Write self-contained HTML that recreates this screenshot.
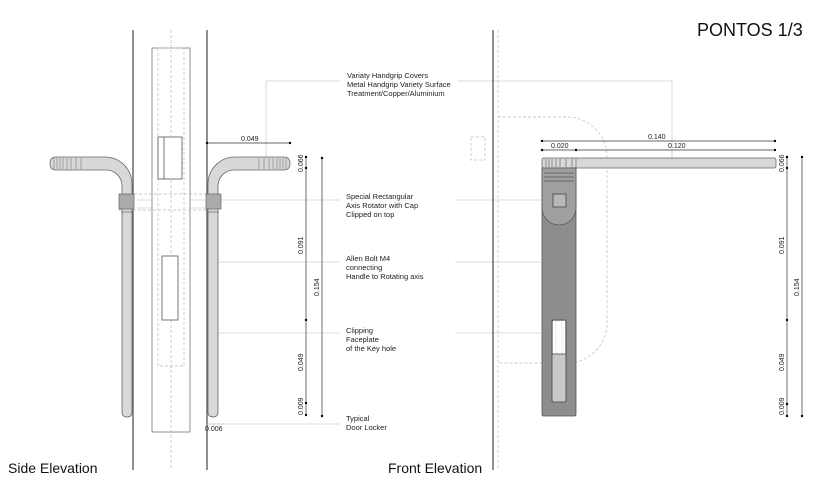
<!DOCTYPE html>
<html><head><meta charset="utf-8"><style>
html,body{margin:0;padding:0;background:#fff;}
svg{display:block;font-family:"Liberation Sans",sans-serif;}
.s{font-size:7px;fill:#222}
.l{font-size:7.5px;fill:#222}
</style></head><body>
<svg width="818" height="480" viewBox="0 0 818 480" xmlns="http://www.w3.org/2000/svg">
<rect width="818" height="480" fill="#fff"/>
<!-- leaders -->
<g stroke="#d0d0d0" stroke-width="0.8" fill="none">
<path d="M266,160 V81 H340"/>
<path d="M458,81 H672 V158"/>
<path d="M137,200 H340"/>
<path d="M137,208 H210"/>
<path d="M218,262 H340"/>
<path d="M218,333 H340"/>
<path d="M210,424 H340"/>
<path d="M455,200 H545"/>
<path d="M455,262 H545"/>
<path d="M455,333 H545"/>
</g>
<!-- door lines -->
<g stroke="#555" stroke-width="1.3">
<line x1="133" y1="30" x2="133" y2="470"/>
<line x1="207" y1="30" x2="207" y2="470"/>
<line x1="493" y1="30" x2="493" y2="470"/>
</g>
<!-- door strip -->
<rect x="152" y="48" width="38" height="384" fill="#fff" stroke="#777" stroke-width="0.8"/>
<g stroke="#bbb" stroke-width="0.7" stroke-dasharray="3,2" fill="none">
<line x1="171" y1="30" x2="171" y2="470"/>
<rect x="158" y="48" width="26" height="318"/>
<rect x="119" y="194" width="88" height="16"/>
<line x1="207" y1="424" x2="224" y2="424"/>
<path d="M498,30 V470"/>
<path d="M498,117 H567 A40,40 0 0 1 607,157 V323 A40,40 0 0 1 567,363 H498"/>
<rect x="471" y="137" width="14" height="23"/>
</g>
<rect x="158" y="137" width="24" height="42" fill="#fff" stroke="#555" stroke-width="0.8"/>
<line x1="164" y1="137" x2="164" y2="179" stroke="#555" stroke-width="0.8"/>
<rect x="162" y="256" width="16" height="64" fill="#fff" stroke="#555" stroke-width="0.8"/>
<!-- side handles -->
<g id="h">
<path d="M56,157 H105 A27,27 0 0 1 132,184 V412 Q132,417 127,417 Q122,417 122,412 V186 A16,16 0 0 0 106,170 H56 Q50,170 50,163.5 Q50,157 56,157 Z" fill="#d8d8d8" stroke="#666" stroke-width="0.8"/>
<g stroke="#888" stroke-width="0.7">
<line x1="54" y1="158" x2="54" y2="169"/><line x1="57" y1="158" x2="57" y2="169"/><line x1="60" y1="158" x2="60" y2="169"/><line x1="63" y1="158" x2="63" y2="169"/><line x1="67" y1="158" x2="67" y2="169"/><line x1="71" y1="158" x2="71" y2="169"/><line x1="76" y1="158" x2="76" y2="169"/><line x1="81" y1="158" x2="81" y2="169"/>
</g>
<rect x="119" y="194" width="15" height="15" fill="#aaa" stroke="#666" stroke-width="0.7"/>
<line x1="121" y1="212" x2="133" y2="212" stroke="#666" stroke-width="0.7"/>
</g>
<use href="#h" transform="translate(340,0) scale(-1,1)"/>
<!-- front handle -->
<rect x="542" y="158" width="234" height="10" rx="2" fill="#d8d8d8" stroke="#666" stroke-width="0.8"/>
<g stroke="#777" stroke-width="0.8"><line x1="546" y1="159" x2="546" y2="167"/><line x1="549" y1="159" x2="549" y2="167"/><line x1="552" y1="159" x2="552" y2="167"/><line x1="556" y1="159" x2="556" y2="167"/><line x1="560" y1="159" x2="560" y2="167"/><line x1="566" y1="159" x2="566" y2="167"/><line x1="572" y1="159" x2="572" y2="167"/><line x1="576" y1="159" x2="576" y2="168"/></g>
<rect x="542" y="168" width="34" height="248" rx="1.5" fill="#8d8d8d" stroke="#555" stroke-width="0.8"/>
<path d="M542,168 H576 V208 A17,17 0 0 1 542,208 Z" fill="#a0a0a0" stroke="#555" stroke-width="0.8"/>
<g stroke="#555" stroke-width="0.8"><line x1="544" y1="173" x2="574" y2="173"/><line x1="544" y1="177" x2="574" y2="177"/><line x1="544" y1="181" x2="574" y2="181"/></g>
<rect x="553" y="194" width="13" height="13" fill="#b8b8b8" stroke="#444" stroke-width="0.8"/>
<rect x="552" y="320" width="14" height="82" rx="1.5" fill="#c8c8c8" stroke="#444" stroke-width="0.8"/>
<rect x="553" y="321" width="12" height="33" fill="#fff"/>
<g stroke="#ccc" stroke-width="0.6" stroke-dasharray="2,1"><line x1="556" y1="321" x2="556" y2="354"/><line x1="562" y1="321" x2="562" y2="354"/></g>
<line x1="552" y1="354" x2="566" y2="354" stroke="#444" stroke-width="0.8"/>
<!-- dimensions -->
<g stroke="#333" stroke-width="0.7" fill="none">
<line x1="207" y1="143" x2="290" y2="143"/>
<line x1="306" y1="157" x2="306" y2="416"/>
<line x1="322" y1="158" x2="322" y2="416"/>
<line x1="542" y1="141" x2="775" y2="141"/>
<line x1="542" y1="150" x2="775" y2="150"/>
<line x1="787" y1="157" x2="787" y2="416"/>
<line x1="802" y1="157" x2="802" y2="416"/>
</g>
<g fill="#000">
<circle cx="207" cy="143" r="1.2"/><circle cx="290" cy="143" r="1.2"/>
<circle cx="306" cy="157" r="1.2"/><circle cx="306" cy="168" r="1.2"/><circle cx="306" cy="320" r="1.2"/><circle cx="306" cy="403" r="1.2"/><circle cx="306" cy="415" r="1.2"/>
<circle cx="322" cy="158" r="1.2"/><circle cx="322" cy="416" r="1.2"/>
<circle cx="542" cy="141" r="1.2"/><circle cx="775" cy="141" r="1.2"/>
<circle cx="542" cy="150" r="1.2"/><circle cx="576" cy="150" r="1.2"/><circle cx="775" cy="150" r="1.2"/>
<circle cx="787" cy="157" r="1.2"/><circle cx="787" cy="168" r="1.2"/><circle cx="787" cy="320" r="1.2"/><circle cx="787" cy="404" r="1.2"/><circle cx="787" cy="416" r="1.2"/>
<circle cx="802" cy="157" r="1.2"/><circle cx="802" cy="416" r="1.2"/>
</g>
<text class="s" x="241" y="141">0.049</text>
<text class="s" x="205" y="431">0.006</text>
<text class="s" x="648" y="139">0.140</text>
<text class="s" x="551" y="148">0.020</text>
<text class="s" x="668" y="148">0.120</text>
<g class="s">
<text transform="translate(303,172) rotate(-90)">0.066</text>
<text transform="translate(303,254) rotate(-90)">0.091</text>
<text transform="translate(303,371) rotate(-90)">0.049</text>
<text transform="translate(303,415) rotate(-90)">0.009</text>
<text transform="translate(319,296) rotate(-90)">0.154</text>
<text transform="translate(784,172) rotate(-90)">0.066</text>
<text transform="translate(784,254) rotate(-90)">0.091</text>
<text transform="translate(784,371) rotate(-90)">0.049</text>
<text transform="translate(784,415) rotate(-90)">0.009</text>
<text transform="translate(799,296) rotate(-90)">0.154</text>
</g>
<!-- labels -->
<g class="l">
<text x="347" y="78">Variaty Handgrip Covers</text>
<text x="347" y="87">Metal Handgrip Variety Surface</text>
<text x="347" y="96">Treatment/Copper/Aluminium</text>
<text x="346" y="199">Special Rectangular</text>
<text x="346" y="208">Axis Rotator with Cap</text>
<text x="346" y="217">Clipped on top</text>
<text x="346" y="261">Allen Bolt M4</text>
<text x="346" y="270">connecting</text>
<text x="346" y="279">Handle to Rotating axis</text>
<text x="346" y="333">Clipping</text>
<text x="346" y="342">Faceplate</text>
<text x="346" y="351">of the Key hole</text>
<text x="346" y="421">Typical</text>
<text x="346" y="430">Door Locker</text>
</g>
<text x="697" y="36" font-size="18" fill="#111">PONTOS 1/3</text>
<text x="8" y="473" font-size="14" fill="#111">Side Elevation</text>
<text x="388" y="473" font-size="14" fill="#111">Front Elevation</text>
</svg>
</body></html>
